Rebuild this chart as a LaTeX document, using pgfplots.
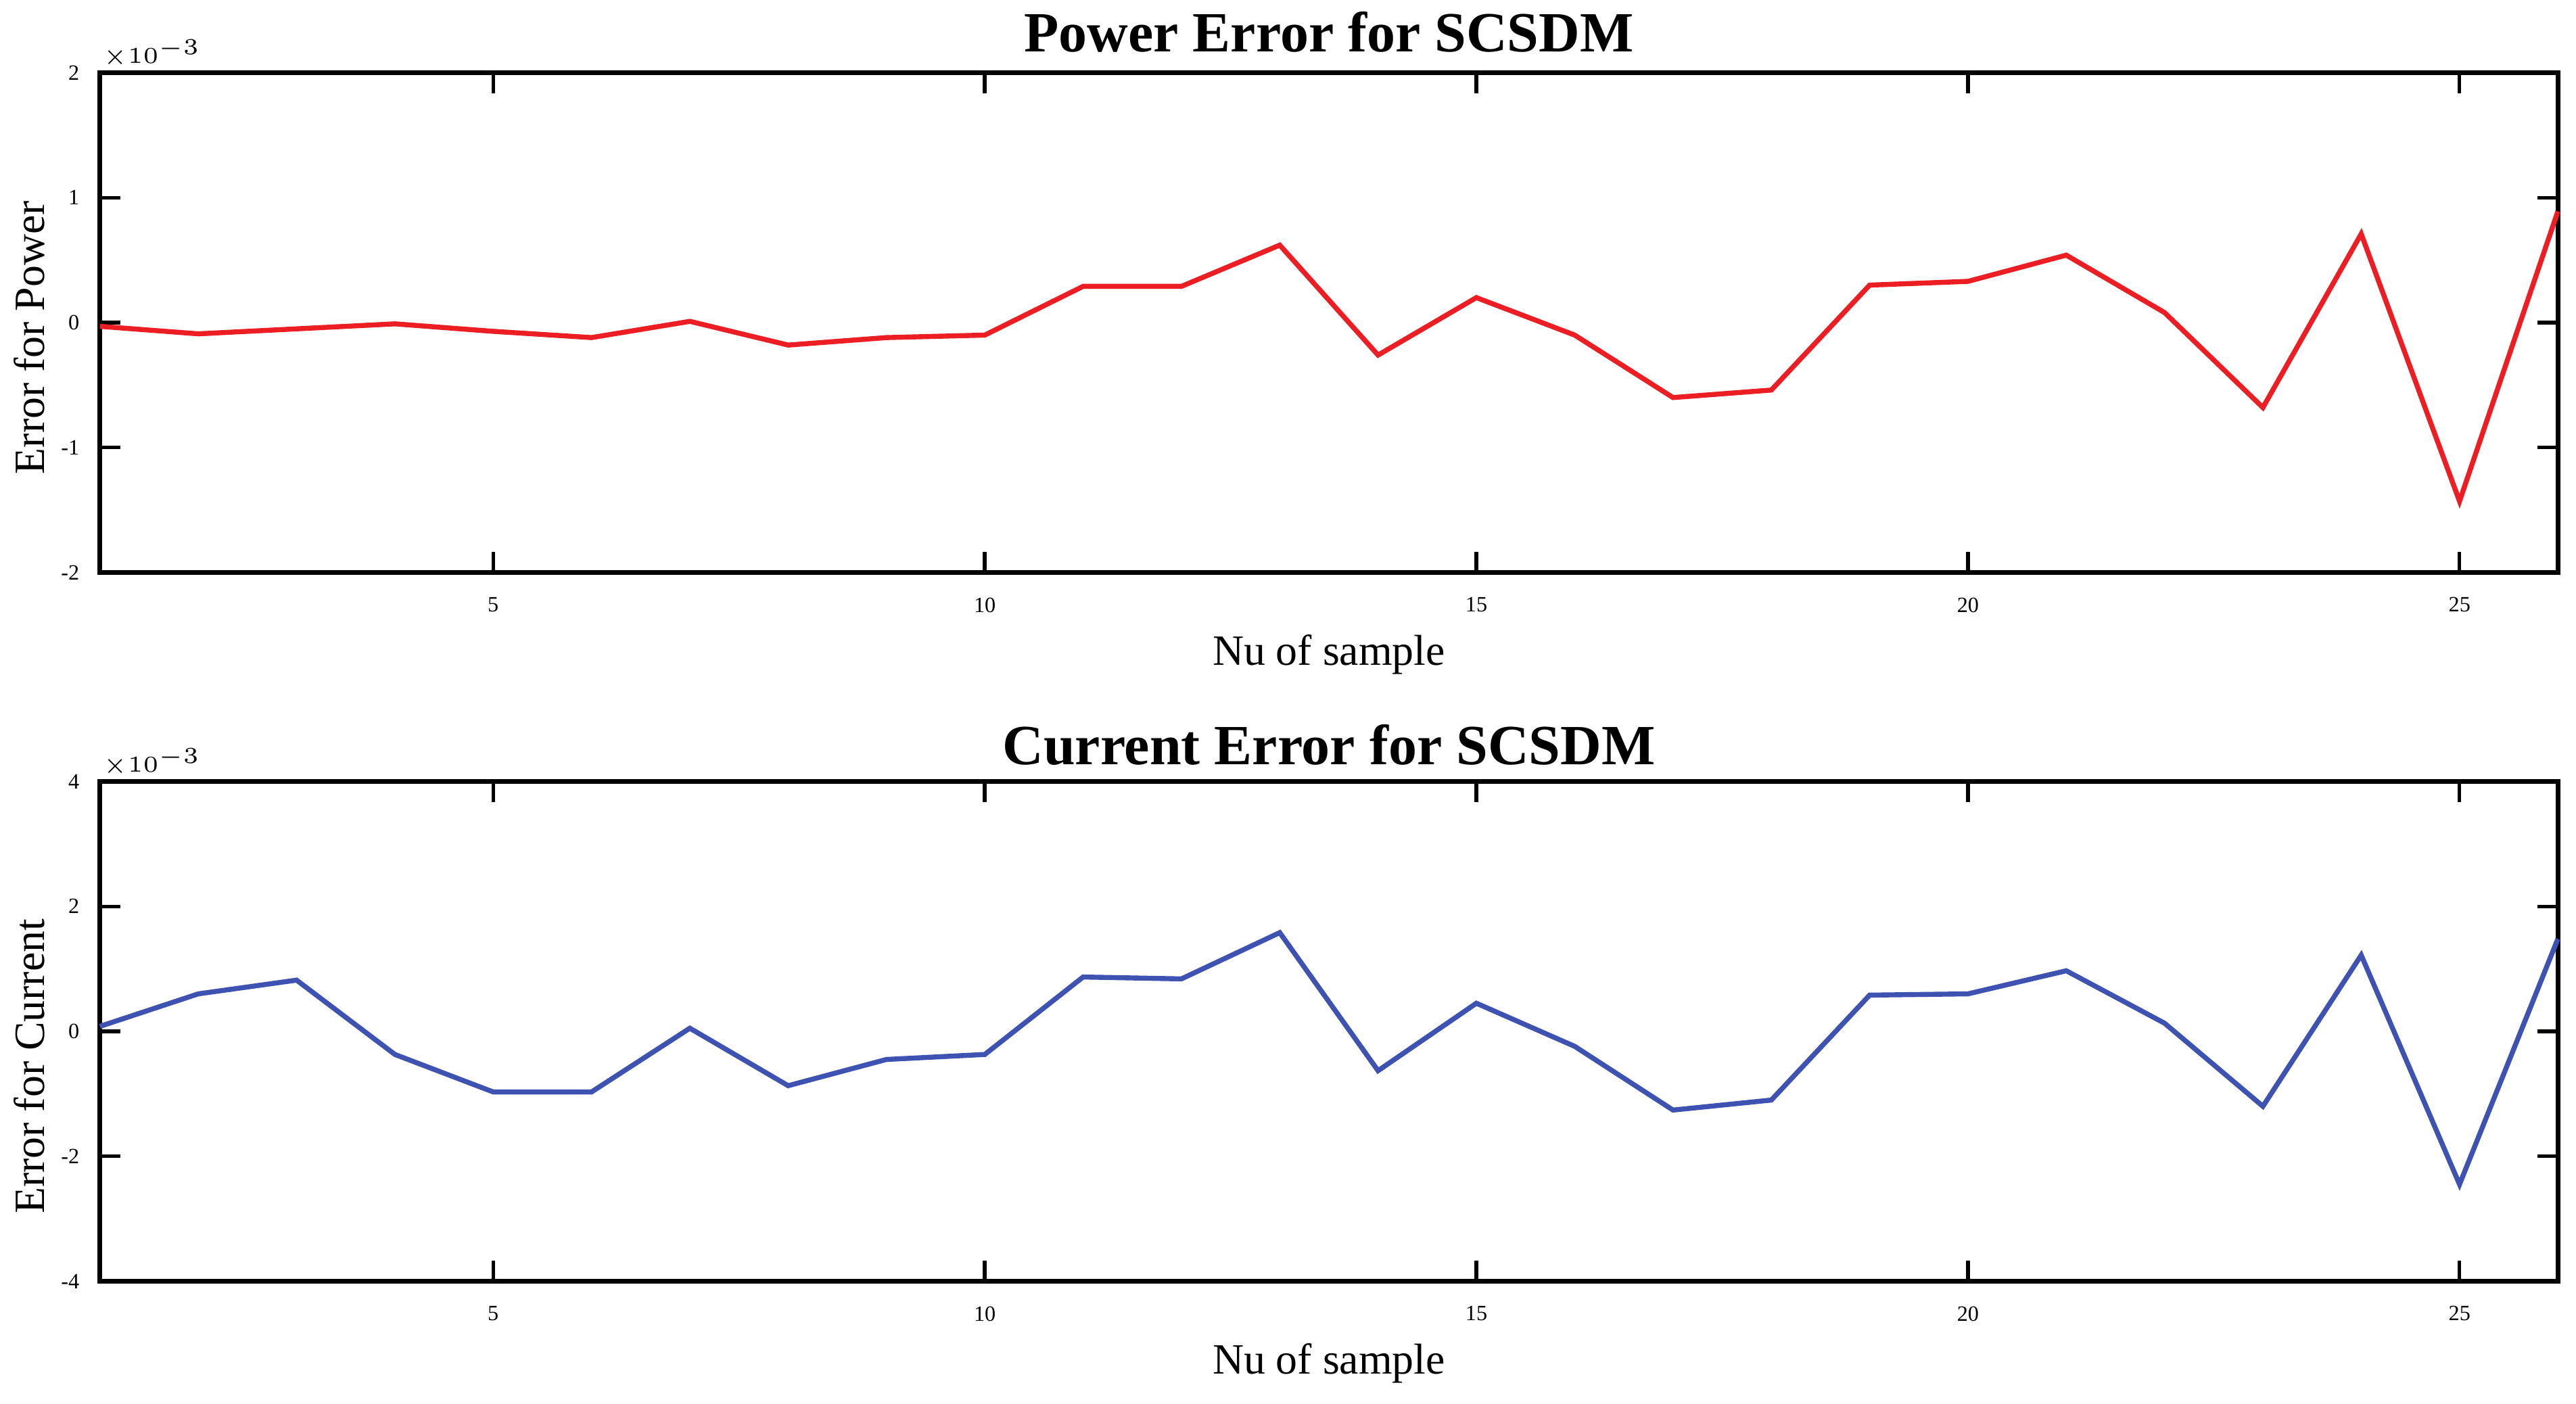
\documentclass[border=0pt]{standalone}
\usepackage{fontspec}
\setmainfont{Liberation Serif}
\usepackage{pgfplots}
\pgfplotsset{compat=1.18}

\definecolor{powerred}{RGB}{236,30,36}
\definecolor{currentblue}{RGB}{62,82,178}

\pgfplotsset{
  errpanel/.style={
    scale only axis,
    width=541pt, height=110pt,
    xmin=1, xmax=26,
    xtick={5,10,15,20,25},
    tick align=inside,
    major tick length=4.5pt,
    clip=false,
    axis line style={line width=1pt},
    tick style={black,line width=0.8pt},
    /pgf/number format/assume math mode=true,
    tick label style={font=\fontsize{4.8}{5}\selectfont},
    xticklabel style={yshift=-2pt},
    yticklabel style={xshift=-1pt},
    title style={font=\bfseries\fontsize{12.5}{14}\selectfont,
      at={(axis description cs:0.5,1)},anchor=center,yshift=3pt},
    label style={font=\fontsize{9.5}{11}\selectfont},
    xlabel style={at={(axis description cs:0.5,0)},anchor=center,yshift=-18pt},
    xlabel={Nu of sample},
  }
}

\begin{document}
\begin{tikzpicture}
\path[use as bounding box] (-22pt,16pt) rectangle (545pt,-293pt);

% power error, values in units of 1e-3
\begin{axis}[errpanel,
  at={(0,0)}, anchor=north west,
  ymin=-2, ymax=2, ytick={-2,-1,0,1,2},
  title={Power Error for SCSDM},
  ylabel={Error for Power},
  ylabel style={at={(axis description cs:0,0.47)},anchor=center,yshift=15.5pt},
]
\addplot[powerred,line width=1.1pt] coordinates {
  (1,-0.03) (2,-0.09) (3,-0.05) (4,-0.01) (5,-0.07) (6,-0.12)
  (7,0.01) (8,-0.18) (9,-0.12) (10,-0.10) (11,0.29) (12,0.29)
  (13,0.62) (14,-0.26) (15,0.20) (16,-0.10) (17,-0.60) (18,-0.54)
  (19,0.30) (20,0.33) (21,0.54) (22,0.08) (23,-0.68) (24,0.71)
  (25,-1.43) (26,0.89)};
\node[anchor=south west,inner sep=0pt,font=\fontsize{3.3}{4}\selectfont]
  at (axis description cs:0,1) [xshift=0.5pt,yshift=1pt] {$\times10^{-3}$};
\end{axis}

% current error, values in units of 1e-3
\begin{axis}[errpanel,
  at={(0,-156pt)}, anchor=north west,
  ymin=-4, ymax=4, ytick={-4,-2,0,2,4},
  title={Current Error for SCSDM},
  ylabel={Error for Current},
  ylabel style={at={(axis description cs:0,0.43)},anchor=center,yshift=15.5pt},
  title style={yshift=-1pt},
]
\addplot[currentblue,line width=1.1pt] coordinates {
  (1,0.08) (2,0.60) (3,0.82) (4,-0.37) (5,-0.97) (6,-0.97)
  (7,0.05) (8,-0.87) (9,-0.45) (10,-0.37) (11,0.87) (12,0.84)
  (13,1.58) (14,-0.63) (15,0.45) (16,-0.24) (17,-1.26) (18,-1.10)
  (19,0.58) (20,0.60) (21,0.97) (22,0.13) (23,-1.20) (24,1.22)
  (25,-2.45) (26,1.48)};
\node[anchor=south west,inner sep=0pt,font=\fontsize{3.3}{4}\selectfont]
  at (axis description cs:0,1) [xshift=0.5pt,yshift=1pt] {$\times10^{-3}$};
\end{axis}
\end{tikzpicture}
\end{document}
